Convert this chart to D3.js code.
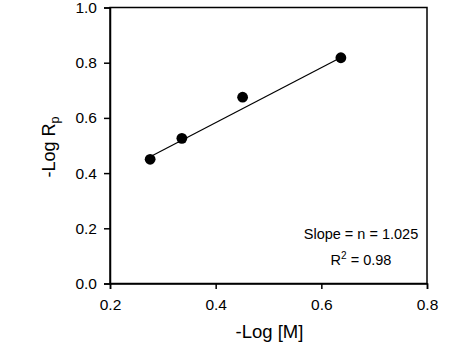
<!DOCTYPE html>
<html>
<head>
<meta charset="utf-8">
<script src="https://cdn.jsdelivr.net/npm/d3@7"></script>
<style>
  html, body { margin: 0; padding: 0; background: #fff; }
  svg { display: block; font-family: "Liberation Sans", Arial, sans-serif; }
</style>
</head>
<body>
<script>
// Data
const xValues = [0.276, 0.336, 0.451, 0.637];   // -Log [M]
const yValues = [0.450, 0.526, 0.675, 0.818];   // -Log Rp
const fitX = [0.276, 0.637];                    // fitted line ends
const fitY = [0.459, 0.819];
const xTicks = [0.2, 0.4, 0.6, 0.8];
const yTicks = [0.0, 0.2, 0.4, 0.6, 0.8, 1.0];
const annotSlope = "Slope = n = 1.025";
const annotR2Value = " = 0.98";

const W = 474, H = 357;
const mLeft = 110, mRight = 427, mTop = 7.5, mBottom = 283.5;

const svg = d3.select("body").append("svg").attr("width", W).attr("height", H);

const x = d3.scaleLinear().domain([0.2, 0.8]).range([mLeft, mRight]);
const y = d3.scaleLinear().domain([0, 1]).range([mBottom, mTop]);

// Frame
svg.append("rect")
  .attr("x", mLeft).attr("y", mTop)
  .attr("width", mRight - mLeft).attr("height", mBottom - mTop)
  .attr("fill", "none").attr("stroke", "#000").attr("stroke-width", 1.5);

// Axes
const xAxis = svg.append("g").attr("transform", `translate(0,${mBottom})`)
  .call(d3.axisBottom(x).tickValues(xTicks).tickFormat(d3.format(".1f")).tickSize(5.5).tickPadding(9.5));
const yAxis = svg.append("g").attr("transform", `translate(${mLeft},0)`)
  .call(d3.axisLeft(y).tickValues(yTicks).tickFormat(d3.format(".1f")).tickSize(6).tickPadding(7));

[xAxis, yAxis].forEach(g => {
  g.select(".domain").attr("stroke", "#000").attr("stroke-width", 1.5);
  g.selectAll(".tick line").attr("stroke", "#000").attr("stroke-width", 1.5);
  g.selectAll(".tick text").attr("fill", "#000")
    .style("font-family", '"Liberation Sans", Arial, sans-serif').style("font-size", "15.5px");
});

// Fit line
svg.append("line")
  .attr("x1", x(fitX[0])).attr("y1", y(fitY[0]))
  .attr("x2", x(fitX[1])).attr("y2", y(fitY[1]))
  .attr("stroke", "#000").attr("stroke-width", 1.2);

// Points
svg.selectAll("circle.pt").data(xValues.map((v, i) => [v, yValues[i]]))
  .enter().append("circle").attr("class", "pt")
  .attr("cx", d => x(d[0])).attr("cy", d => y(d[1]))
  .attr("r", 5.4).attr("fill", "#000");

// Axis titles
svg.append("text")
  .attr("x", (mLeft + mRight) / 2 + 1).attr("y", 338)
  .attr("text-anchor", "middle").style("font-size", "18.5px").attr("fill", "#000")
  .text("-Log [M]");

const yt = svg.append("text")
  .attr("transform", `translate(55,147) rotate(-90)`)
  .attr("text-anchor", "middle").style("font-size", "18px").attr("fill", "#000");
yt.append("tspan").text("-Log R");
yt.append("tspan").attr("dy", 4).style("font-size", "12.5px").text("p");

// Annotations
svg.append("text")
  .attr("x", 361).attr("y", 239)
  .attr("text-anchor", "middle").style("font-size", "14.5px").attr("fill", "#000")
  .text(annotSlope);

const r2 = svg.append("text")
  .attr("x", 361).attr("y", 265)
  .attr("text-anchor", "middle").style("font-size", "14.5px").attr("fill", "#000");
r2.append("tspan").text("R");
r2.append("tspan").attr("dy", -6).style("font-size", "10px").text("2");
r2.append("tspan").attr("dy", 6).text(annotR2Value);
</script>
</body>
</html>
